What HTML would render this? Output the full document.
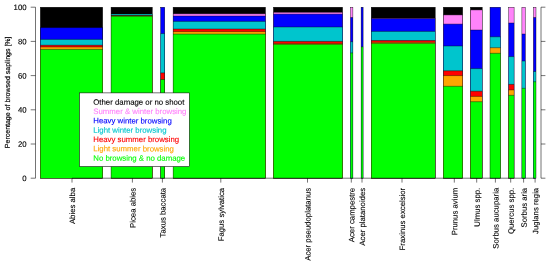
<!DOCTYPE html>
<html><head><meta charset="utf-8"><title>Browsing chart</title>
<style>html,body{margin:0;padding:0;background:#fff}svg{display:block}text{text-rendering:geometricPrecision;font-family:"Liberation Sans",sans-serif;font-size:7.8px}</style></head><body>
<svg width="550" height="265" viewBox="0 0 550 265">
<rect width="550" height="265" fill="#fff"/>
<rect x="40.30" y="7.20" width="62.40" height="171.00" fill="#000000"/>
<rect x="40.30" y="27.60" width="62.40" height="150.60" fill="#0000FF"/>
<rect x="40.30" y="39.40" width="62.40" height="138.80" fill="#00C5CD"/>
<rect x="40.30" y="45.20" width="62.40" height="133.00" fill="#FF0000"/>
<rect x="40.30" y="47.00" width="62.40" height="131.20" fill="#FFA500"/>
<rect x="40.30" y="49.40" width="62.40" height="128.80" fill="#00FF00"/>
<path d="M40.30 27.60H102.70M40.30 39.40H102.70M40.30 45.20H102.70M40.30 47.00H102.70M40.30 49.40H102.70" stroke="#000" stroke-width="0.4" fill="none"/>
<rect x="40.30" y="7.20" width="62.40" height="171.00" fill="none" stroke="#000" stroke-width="0.4"/>
<rect x="111.05" y="7.20" width="41.25" height="171.00" fill="#000000"/>
<rect x="111.05" y="14.00" width="41.25" height="164.20" fill="#00C5CD"/>
<rect x="111.05" y="15.50" width="41.25" height="162.70" fill="#FF0000"/>
<rect x="111.05" y="15.80" width="41.25" height="162.40" fill="#FFA500"/>
<rect x="111.05" y="16.20" width="41.25" height="162.00" fill="#00FF00"/>
<path d="M111.05 14.00H152.30M111.05 15.50H152.30M111.05 15.80H152.30M111.05 16.20H152.30" stroke="#000" stroke-width="0.4" fill="none"/>
<rect x="111.05" y="7.20" width="41.25" height="171.00" fill="none" stroke="#000" stroke-width="0.4"/>
<rect x="160.65" y="7.20" width="4.15" height="171.00" fill="#0000FF"/>
<rect x="160.65" y="33.60" width="4.15" height="144.60" fill="#00C5CD"/>
<rect x="160.65" y="72.90" width="4.15" height="105.30" fill="#FF0000"/>
<rect x="160.65" y="79.50" width="4.15" height="98.70" fill="#00FF00"/>
<path d="M160.65 33.60H164.80M160.65 72.90H164.80M160.65 79.50H164.80" stroke="#000" stroke-width="0.4" fill="none"/>
<rect x="160.65" y="7.20" width="4.15" height="171.00" fill="none" stroke="#000" stroke-width="0.4"/>
<rect x="173.10" y="7.20" width="92.40" height="171.00" fill="#000000"/>
<rect x="173.10" y="13.80" width="92.40" height="164.40" fill="#FF83FA"/>
<rect x="173.10" y="16.00" width="92.40" height="162.20" fill="#0000FF"/>
<rect x="173.10" y="21.40" width="92.40" height="156.80" fill="#00C5CD"/>
<rect x="173.10" y="29.00" width="92.40" height="149.20" fill="#FF0000"/>
<rect x="173.10" y="31.60" width="92.40" height="146.60" fill="#FFA500"/>
<rect x="173.10" y="34.10" width="92.40" height="144.10" fill="#00FF00"/>
<path d="M173.10 13.80H265.50M173.10 16.00H265.50M173.10 21.40H265.50M173.10 29.00H265.50M173.10 31.60H265.50M173.10 34.10H265.50" stroke="#000" stroke-width="0.4" fill="none"/>
<rect x="173.10" y="7.20" width="92.40" height="171.00" fill="none" stroke="#000" stroke-width="0.4"/>
<rect x="273.40" y="7.20" width="69.20" height="171.00" fill="#000000"/>
<rect x="273.40" y="12.30" width="69.20" height="165.90" fill="#FF83FA"/>
<rect x="273.40" y="14.10" width="69.20" height="164.10" fill="#0000FF"/>
<rect x="273.40" y="27.00" width="69.20" height="151.20" fill="#00C5CD"/>
<rect x="273.40" y="41.40" width="69.20" height="136.80" fill="#FF0000"/>
<rect x="273.40" y="43.60" width="69.20" height="134.60" fill="#FFA500"/>
<rect x="273.40" y="44.40" width="69.20" height="133.80" fill="#00FF00"/>
<path d="M273.40 12.30H342.60M273.40 14.10H342.60M273.40 27.00H342.60M273.40 41.40H342.60M273.40 43.60H342.60M273.40 44.40H342.60" stroke="#000" stroke-width="0.4" fill="none"/>
<rect x="273.40" y="7.20" width="69.20" height="171.00" fill="none" stroke="#000" stroke-width="0.4"/>
<rect x="350.50" y="7.20" width="2.40" height="171.00" fill="#FF83FA"/>
<rect x="350.50" y="17.50" width="2.40" height="160.70" fill="#0000FF"/>
<rect x="350.50" y="41.70" width="2.40" height="136.50" fill="#00C5CD"/>
<rect x="350.50" y="52.90" width="2.40" height="125.30" fill="#00FF00"/>
<path d="M350.50 17.50H352.90M350.50 41.70H352.90M350.50 52.90H352.90" stroke="#000" stroke-width="0.4" fill="none"/>
<rect x="350.50" y="7.20" width="2.40" height="171.00" fill="none" stroke="#000" stroke-width="0.4"/>
<rect x="361.10" y="7.20" width="2.00" height="171.00" fill="#0000FF"/>
<rect x="361.10" y="46.80" width="2.00" height="131.40" fill="#00FF00"/>
<path d="M361.10 46.80H363.10" stroke="#000" stroke-width="0.4" fill="none"/>
<rect x="361.10" y="7.20" width="2.00" height="171.00" fill="none" stroke="#000" stroke-width="0.4"/>
<rect x="371.20" y="7.20" width="64.00" height="171.00" fill="#000000"/>
<rect x="371.20" y="18.20" width="64.00" height="160.00" fill="#FF83FA"/>
<rect x="371.20" y="18.60" width="64.00" height="159.60" fill="#0000FF"/>
<rect x="371.20" y="31.40" width="64.00" height="146.80" fill="#00C5CD"/>
<rect x="371.20" y="40.50" width="64.00" height="137.70" fill="#FF0000"/>
<rect x="371.20" y="42.40" width="64.00" height="135.80" fill="#FFA500"/>
<rect x="371.20" y="43.50" width="64.00" height="134.70" fill="#00FF00"/>
<path d="M371.20 18.20H435.20M371.20 18.60H435.20M371.20 31.40H435.20M371.20 40.50H435.20M371.20 42.40H435.20M371.20 43.50H435.20" stroke="#000" stroke-width="0.4" fill="none"/>
<rect x="371.20" y="7.20" width="64.00" height="171.00" fill="none" stroke="#000" stroke-width="0.4"/>
<rect x="443.30" y="7.20" width="19.40" height="171.00" fill="#000000"/>
<rect x="443.30" y="14.90" width="19.40" height="163.30" fill="#FF83FA"/>
<rect x="443.30" y="24.10" width="19.40" height="154.10" fill="#0000FF"/>
<rect x="443.30" y="46.00" width="19.40" height="132.20" fill="#00C5CD"/>
<rect x="443.30" y="70.80" width="19.40" height="107.40" fill="#FF0000"/>
<rect x="443.30" y="75.60" width="19.40" height="102.60" fill="#FFA500"/>
<rect x="443.30" y="86.30" width="19.40" height="91.90" fill="#00FF00"/>
<path d="M443.30 14.90H462.70M443.30 24.10H462.70M443.30 46.00H462.70M443.30 70.80H462.70M443.30 75.60H462.70M443.30 86.30H462.70" stroke="#000" stroke-width="0.4" fill="none"/>
<rect x="443.30" y="7.20" width="19.40" height="171.00" fill="none" stroke="#000" stroke-width="0.4"/>
<rect x="470.40" y="7.20" width="11.80" height="171.00" fill="#000000"/>
<rect x="470.40" y="9.90" width="11.80" height="168.30" fill="#FF83FA"/>
<rect x="470.40" y="30.00" width="11.80" height="148.20" fill="#0000FF"/>
<rect x="470.40" y="68.60" width="11.80" height="109.60" fill="#00C5CD"/>
<rect x="470.40" y="91.20" width="11.80" height="87.00" fill="#FF0000"/>
<rect x="470.40" y="96.40" width="11.80" height="81.80" fill="#FFA500"/>
<rect x="470.40" y="101.70" width="11.80" height="76.50" fill="#00FF00"/>
<path d="M470.40 9.90H482.20M470.40 30.00H482.20M470.40 68.60H482.20M470.40 91.20H482.20M470.40 96.40H482.20M470.40 101.70H482.20" stroke="#000" stroke-width="0.4" fill="none"/>
<rect x="470.40" y="7.20" width="11.80" height="171.00" fill="none" stroke="#000" stroke-width="0.4"/>
<rect x="490.00" y="7.20" width="10.60" height="171.00" fill="#0000FF"/>
<rect x="490.00" y="36.80" width="10.60" height="141.40" fill="#00C5CD"/>
<rect x="490.00" y="47.70" width="10.60" height="130.50" fill="#FFA500"/>
<rect x="490.00" y="53.30" width="10.60" height="124.90" fill="#00FF00"/>
<path d="M490.00 36.80H500.60M490.00 47.70H500.60M490.00 53.30H500.60" stroke="#000" stroke-width="0.4" fill="none"/>
<rect x="490.00" y="7.20" width="10.60" height="171.00" fill="none" stroke="#000" stroke-width="0.4"/>
<rect x="508.60" y="7.20" width="5.50" height="171.00" fill="#FF83FA"/>
<rect x="508.60" y="23.00" width="5.50" height="155.20" fill="#0000FF"/>
<rect x="508.60" y="56.60" width="5.50" height="121.60" fill="#00C5CD"/>
<rect x="508.60" y="84.40" width="5.50" height="93.80" fill="#FF0000"/>
<rect x="508.60" y="89.90" width="5.50" height="88.30" fill="#FFA500"/>
<rect x="508.60" y="95.30" width="5.50" height="82.90" fill="#00FF00"/>
<path d="M508.60 23.00H514.10M508.60 56.60H514.10M508.60 84.40H514.10M508.60 89.90H514.10M508.60 95.30H514.10" stroke="#000" stroke-width="0.4" fill="none"/>
<rect x="508.60" y="7.20" width="5.50" height="171.00" fill="none" stroke="#000" stroke-width="0.4"/>
<rect x="521.90" y="7.20" width="3.40" height="171.00" fill="#FF83FA"/>
<rect x="521.90" y="34.00" width="3.40" height="144.20" fill="#0000FF"/>
<rect x="521.90" y="61.00" width="3.40" height="117.20" fill="#00C5CD"/>
<rect x="521.90" y="88.30" width="3.40" height="89.90" fill="#00FF00"/>
<path d="M521.90 34.00H525.30M521.90 61.00H525.30M521.90 88.30H525.30" stroke="#000" stroke-width="0.4" fill="none"/>
<rect x="521.90" y="7.20" width="3.40" height="171.00" fill="none" stroke="#000" stroke-width="0.4"/>
<rect x="533.40" y="7.20" width="2.60" height="171.00" fill="#FF83FA"/>
<rect x="533.40" y="17.50" width="2.60" height="160.70" fill="#0000FF"/>
<rect x="533.40" y="71.50" width="2.60" height="106.70" fill="#00C5CD"/>
<rect x="533.40" y="81.70" width="2.60" height="96.50" fill="#00FF00"/>
<path d="M533.40 17.50H536.00M533.40 71.50H536.00M533.40 81.70H536.00" stroke="#000" stroke-width="0.4" fill="none"/>
<rect x="533.40" y="7.20" width="2.60" height="171.00" fill="none" stroke="#000" stroke-width="0.4"/>
<g stroke="#000" stroke-width="0.55" fill="none">
<path d="M35.50 7.20V178.20"/>
<path d="M35.50 178.20H30.70"/>
<path d="M35.50 144.00H30.70"/>
<path d="M35.50 109.80H30.70"/>
<path d="M35.50 75.60H30.70"/>
<path d="M35.50 41.40H30.70"/>
<path d="M35.50 7.20H30.70"/>
<path d="M541.00 7.20V178.20"/>
<path d="M541.00 178.20H545.40"/>
<path d="M541.00 144.00H545.40"/>
<path d="M541.00 109.80H545.40"/>
<path d="M541.00 75.60H545.40"/>
<path d="M541.00 41.40H545.40"/>
<path d="M541.00 7.20H545.40"/>
<path d="M72.00 178.20H535.10"/>
<path d="M72.00 178.20V182.60"/>
<path d="M132.40 178.20V182.60"/>
<path d="M162.40 178.20V182.60"/>
<path d="M220.80 178.20V182.60"/>
<path d="M307.50 178.20V182.60"/>
<path d="M351.30 178.20V182.60"/>
<path d="M362.00 178.20V182.60"/>
<path d="M402.00 178.20V182.60"/>
<path d="M454.30 178.20V182.60"/>
<path d="M476.70 178.20V182.60"/>
<path d="M495.40 178.20V182.60"/>
<path d="M510.70 178.20V182.60"/>
<path d="M523.60 178.20V182.60"/>
<path d="M535.10 178.20V182.60"/>
</g>
<text transform="translate(26.6 181.00) rotate(0.03)" text-anchor="end" stroke="#000" stroke-width="0.12">0</text>
<text transform="translate(26.6 146.80) rotate(0.03)" text-anchor="end" stroke="#000" stroke-width="0.12">20</text>
<text transform="translate(26.6 112.60) rotate(0.03)" text-anchor="end" stroke="#000" stroke-width="0.12">40</text>
<text transform="translate(26.6 78.40) rotate(0.03)" text-anchor="end" stroke="#000" stroke-width="0.12">60</text>
<text transform="translate(26.6 44.20) rotate(0.03)" text-anchor="end" stroke="#000" stroke-width="0.12">80</text>
<text transform="translate(26.6 10.00) rotate(0.03)" text-anchor="end" stroke="#000" stroke-width="0.12">100</text>
<text transform="translate(9.9 92.3) rotate(-89.96)" text-anchor="middle" style="font-size:7px" stroke="#000" stroke-width="0.18">Percentage of browsed saplings [%]</text>
<text transform="translate(75.10 187.8) rotate(-89.96)" text-anchor="end" style="font-size:7.78px" stroke="#000" stroke-width="0.12">Abies alba</text>
<text transform="translate(135.50 187.8) rotate(-89.96)" text-anchor="end" style="font-size:7.78px" stroke="#000" stroke-width="0.12">Picea abies</text>
<text transform="translate(165.50 187.8) rotate(-89.96)" text-anchor="end" style="font-size:7.78px" stroke="#000" stroke-width="0.12">Taxus baccata</text>
<text transform="translate(223.90 187.8) rotate(-89.96)" text-anchor="end" style="font-size:7.78px" stroke="#000" stroke-width="0.12">Fagus sylvatica</text>
<text transform="translate(310.60 187.8) rotate(-89.96)" text-anchor="end" style="font-size:7.78px" stroke="#000" stroke-width="0.12">Acer pseudoplatanus</text>
<text transform="translate(354.40 187.8) rotate(-89.96)" text-anchor="end" style="font-size:7.78px" stroke="#000" stroke-width="0.12">Acer campestre</text>
<text transform="translate(365.10 187.8) rotate(-89.96)" text-anchor="end" style="font-size:7.78px" stroke="#000" stroke-width="0.12">Acer platanoides</text>
<text transform="translate(405.10 187.8) rotate(-89.96)" text-anchor="end" style="font-size:7.78px" stroke="#000" stroke-width="0.12">Fraxinus excelsior</text>
<text transform="translate(457.40 187.8) rotate(-89.96)" text-anchor="end" style="font-size:7.78px" stroke="#000" stroke-width="0.12">Prunus avium</text>
<text transform="translate(479.80 187.8) rotate(-89.96)" text-anchor="end" style="font-size:7.78px" stroke="#000" stroke-width="0.12">Ulmus spp.</text>
<text transform="translate(498.50 187.8) rotate(-89.96)" text-anchor="end" style="font-size:7.78px" stroke="#000" stroke-width="0.12">Sorbus aucuparia</text>
<text transform="translate(513.80 187.8) rotate(-89.96)" text-anchor="end" style="font-size:7.78px" stroke="#000" stroke-width="0.12">Quercus spp.</text>
<text transform="translate(526.70 187.8) rotate(-89.96)" text-anchor="end" style="font-size:7.78px" stroke="#000" stroke-width="0.12">Sorbus aria</text>
<text transform="translate(538.20 187.8) rotate(-89.96)" text-anchor="end" style="font-size:7.78px" stroke="#000" stroke-width="0.12">Juglans regia</text>
<rect x="79.5" y="92.9" width="109.9" height="73.7" fill="#fff" stroke="#000" stroke-width="0.55"/>
<text transform="translate(93.3 104.70) rotate(0.03)" fill="#000000" stroke="#000000" stroke-width="0.12">Other damage or no shoot</text>
<text transform="translate(93.3 114.03) rotate(0.03)" fill="#FF83FA" stroke="#FF83FA" stroke-width="0.12">Summer &amp; winter browsing</text>
<text transform="translate(93.3 123.36) rotate(0.03)" fill="#0000FF" stroke="#0000FF" stroke-width="0.12">Heavy winter browsing</text>
<text transform="translate(93.3 132.69) rotate(0.03)" fill="#00C5CD" stroke="#00C5CD" stroke-width="0.12">Light winter browsing</text>
<text transform="translate(93.3 142.02) rotate(0.03)" fill="#FF0000" stroke="#FF0000" stroke-width="0.12">Heavy summer browsing</text>
<text transform="translate(93.3 151.35) rotate(0.03)" fill="#FFA500" stroke="#FFA500" stroke-width="0.12">Light summer browsing</text>
<text transform="translate(93.3 160.68) rotate(0.03)" fill="#00FF00" stroke="#00FF00" stroke-width="0.12">No browsing &amp; no damage</text>
</svg></body></html>
